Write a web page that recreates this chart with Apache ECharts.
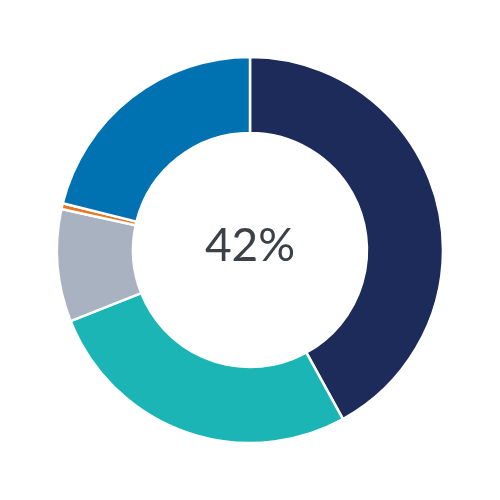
<!DOCTYPE html>
<html><head><meta charset="utf-8">
<script src="https://cdn.jsdelivr.net/npm/echarts@6/dist/echarts.min.js"></script>
<style>html,body{margin:0;padding:0;background:#fff}#c{width:500px;height:500px}</style>
</head><body><div id="c"></div>
<script>
const categories = ['A','B','C','D','E'];
const values = [42, 27, 9.4, 0.5, 21.1];
const colors = ['#1c2b5a','#1bb5b5','#a8b2c1','#e87722','#0072b1'];
const centerLabel = '42%';
const chart = echarts.init(document.getElementById('c'));
chart.setOption({
  animation:false,
  graphic:[{type:'text',x:250,y:246,style:{text:centerLabel,fontSize:46,fontFamily:'Lato',fontWeight:400,fill:'#3b4146',align:'center',verticalAlign:'middle'}}],
  series:[{type:'pie',radius:[117,193],center:['50%','50%'],startAngle:90,clockwise:true,
    label:{show:false},labelLine:{show:false},
    itemStyle:{borderColor:'#fff',borderWidth:2.5},
    data:categories.map((c,i)=>({name:c,value:values[i],itemStyle:{color:colors[i]}}))}]
});
</script></body></html>
